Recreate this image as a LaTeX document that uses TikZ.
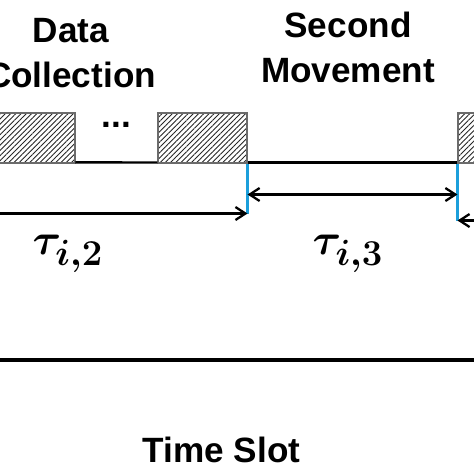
\documentclass[tikz,border=0pt]{standalone}
\usepackage[no-math]{fontspec}
\setmainfont{Liberation Sans}
\usepackage{bm}
\usetikzlibrary{arrows.meta, positioning, patterns.meta}
\definecolor{cblue}{HTML}{1C9FDB}
\definecolor{cgrey}{HTML}{6B6B6B}
\tikzset{
  every picture/.style={line width=1.4pt},
  slot/.style={draw=cgrey, line width=0.6pt, pattern={Lines[angle=45, distance=2.1pt, line width=0.5pt]}, pattern color=black!85, minimum width=1.78cm, minimum height=1cm, inner sep=0pt},
  arrow/.style={-{Straight Barb[length=2mm, width=2.6mm, line width=1.3pt]}, draw=black, line width=1.4pt},
  title/.style={font=\bfseries\fontsize{20}{25.6}\selectfont, align=center, inner sep=0pt},
  dur/.style={font=\fontsize{28}{32}\selectfont, inner sep=0pt, anchor=base},
}

\begin{document}
\begin{tikzpicture}[
    tick/.style={draw=cblue, line width=1.6pt},
    both/.style={arrow, {Straight Barb[length=2mm, width=2.6mm, line width=1.3pt]}-{Straight Barb[length=2mm, width=2.6mm, line width=1.3pt]}},
  ]
  \useasboundingbox (0,0) rectangle (9.48,9.48);
  \clip (0,0) rectangle (9.48,9.48);

  \node[title] (dc) at (1.42,8.42) {Data\\Collection};
  \node[title] (sm) at (6.96,8.54) {Second\\Movement};

  % slots
  \node[slot] (dc1) at (0.61,6.72) {};
  \node[slot] (dc2) at (4.05,6.72) {};
  \node[slot] (dc3) at (10.05,6.72) {};
  \node[font=\bfseries\fontsize{20}{24}\selectfont, inner sep=0pt, anchor=base] (dots) at (2.33,6.92) {...};

  \draw ([yshift=0.02cm]dc1.south east) -- ([yshift=0.02cm]dc2.south west);
  \draw ([yshift=0.02cm]dc2.south east) -- ([yshift=0.02cm]dc3.south west);

  % ticks
  \coordinate (b2) at ([yshift=-1cm]dc2.south east);
  \coordinate (b3) at ([yshift=-1.14cm]dc3.south west);
  \coordinate (m2) at ([yshift=-0.62cm]dc2.south east);
  \coordinate (m3) at ([yshift=-0.62cm]dc3.south west);
  \coordinate (s2) at (-0.2,0 |- b2);
  \coordinate (e3) at (9.7,0 |- b3);
  \draw[tick] (dc2.south east) -- (b2);
  \draw[tick] (dc3.south west) -- (b3);

  \draw[arrow] (s2) -- (b2);
  \draw[both]  (m2) -- (m3);
  \draw[arrow] (e3) -- (b3);

  \node[dur] (t2) at (1.36,4.38) {$\bm{\tau_{i,2}}$};
  \node[dur] (t3) at (6.96,4.38) {$\bm{\tau_{i,3}}$};

  % time slot
  \coordinate (tl) at (-0.1,2.28);
  \coordinate (tr) at (9.6,2.28);
  \draw[line width=1.8pt] (tl) -- (tr);
  \node[title] (ts) at (4.43,0.48) {Time Slot};
\end{tikzpicture}
\end{document}
